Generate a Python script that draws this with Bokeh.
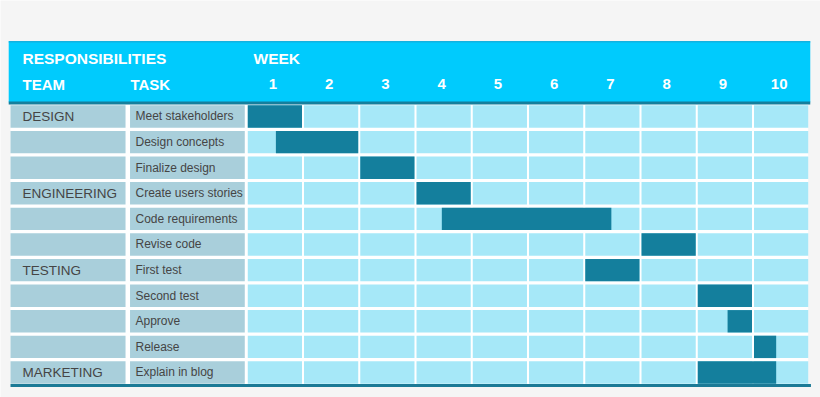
from bokeh.plotting import figure
from bokeh.models import Range1d, ColumnDataSource
from bokeh.core.properties import value
from bokeh.embed import file_html
from bokeh.resources import INLINE
import numpy as np

# ---- data ----
teams = ["DESIGN", "", "", "ENGINEERING", "", "", "TESTING", "", "", "", "MARKETING"]
tasks = ["Meet stakeholders", "Design concepts", "Finalize design", "Create users stories",
         "Code requirements", "Revise code", "First test", "Second test", "Approve",
         "Release", "Explain in blog"]
start_week = [0, 0.5, 2, 3, 3.45, 7, 6, 8, 8.53, 9, 8]
end_week = [1, 2, 3, 4, 6.5, 8, 7, 9, 9, 9.43, 9.43]
week_labels = ["1", "2", "3", "4", "5", "6", "7", "8", "9", "10"]

# ---- style / layout ----
FONT = "Liberation Sans"
BG = "#f5f5f5"
HEADER = "#00cbfd"
DARK = "#147f9d"
CELL = "#a6e8f8"
SIDE = "#a9cfdb"
TXT = "#454545"
GAPX = 0.018   # half gap between week cells (week units)
HALF_H = 0.4375  # half cell height (row units)
LABEL_SHIFT = -0.035

n_rows = len(tasks)
n_weeks = len(week_labels)

p = figure(width=820, height=397, output_backend="svg", toolbar_location=None,
           x_axis_type=None, y_axis_type=None,
           x_range=Range1d(-4.3778, 10.2), y_range=Range1d(10.977, -4.531),
           min_border=0, background_fill_color=BG, border_fill_color=BG)
p.outline_line_color = None
p.grid.visible = False

# white area behind the grid
p.quad(left=[-4.2], right=[9.98], top=[-0.48], bottom=[n_rows - 1 + HALF_H + 0.02],
       fill_color="white", line_color=None)

# header band
p.quad(left=[-4.232], right=[10.018], top=[-2.93], bottom=[-0.56],
       fill_color=HEADER, line_color=None)
p.segment(x0=[-4.232], x1=[10.018], y0=[-2.92], y1=[-2.92], line_color="#12b2e0", line_width=1.5)
p.segment(x0=[-4.232], x1=[10.018], y0=[-0.527], y1=[-0.527], line_color=DARK, line_width=3)

# week cells
rows_idx = np.arange(n_rows)
cw, cr = np.meshgrid(np.arange(n_weeks), rows_idx)
cw = cw.ravel(); cr = cr.ravel()
p.quad(left=cw + GAPX, right=cw + 1 - GAPX, top=cr - HALF_H, bottom=cr + HALF_H,
       fill_color=CELL, line_color=None)

# team and task columns
p.quad(left=[-4.2] * n_rows, right=[-2.155] * n_rows, top=rows_idx - HALF_H,
       bottom=rows_idx + HALF_H, fill_color=SIDE, line_color=None)
p.quad(left=[-2.075] * n_rows, right=[-0.035] * n_rows, top=rows_idx - HALF_H,
       bottom=rows_idx + HALF_H, fill_color=SIDE, line_color=None)

# bars
bars = ColumnDataSource(dict(
    left=[s + GAPX for s in start_week],
    right=[e - GAPX for e in end_week],
    top=list(rows_idx - HALF_H),
    bottom=list(rows_idx + HALF_H),
))
p.quad(left="left", right="right", top="top", bottom="bottom", source=bars,
       fill_color=DARK, line_color=None)

# bottom line
p.segment(x0=[-4.2], x1=[10.03], y0=[10.51], y1=[10.51], line_color="#1b7a96", line_width=3)

# header texts
p.text(x=[-3.987, 0.12], y=[-2.266, -2.266], text=["RESPONSIBILITIES", "WEEK"],
       text_color="white", text_font=value(FONT), text_font_style="bold",
       text_font_size="15.5px", text_baseline="middle", text_align="left")
p.text(x=[-3.987, -2.067], y=[-1.25, -1.25], text=["TEAM", "TASK"],
       text_color="white", text_font=value(FONT), text_font_style="bold",
       text_font_size="15px", text_baseline="middle", text_align="left")
p.text(x=list(np.arange(n_weeks) + 0.5 + LABEL_SHIFT), y=[-1.25] * n_weeks, text=week_labels,
       text_color="white", text_font=value(FONT), text_font_style="bold",
       text_font_size="15px", text_baseline="middle", text_align="center")

# row labels
p.text(x=[-3.987] * n_rows, y=list(rows_idx), text=teams, text_color=TXT,
       text_font=value(FONT), text_font_size="13.5px", text_baseline="middle", text_align="left")
p.text(x=[-1.978] * n_rows, y=list(rows_idx), text=tasks, text_color=TXT,
       text_font=value(FONT), text_font_size="12px", text_baseline="middle", text_align="left")

open("out.html", "w").write(file_html(p, INLINE))
